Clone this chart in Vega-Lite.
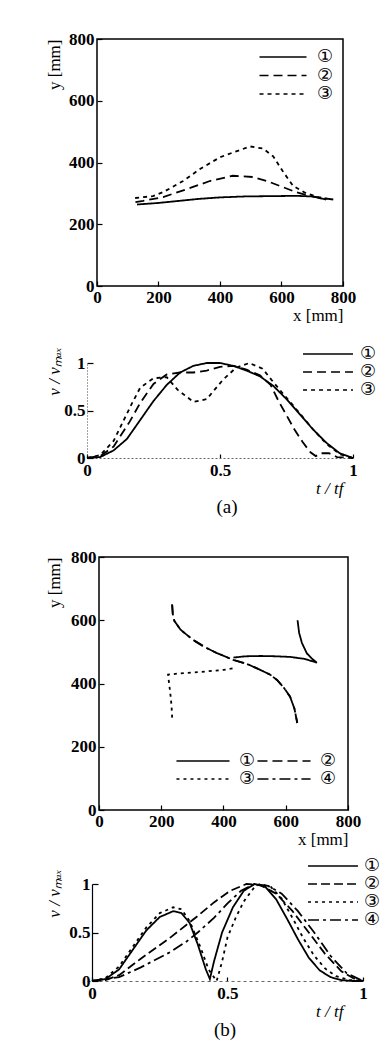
{
  "$schema": "https://vega.github.io/schema/vega-lite/v6.json",
  "padding": {"left": 44, "top": 30, "right": 0, "bottom": 0},
  "background": "white",
  "config": {
    "font": "Liberation Serif",
    "view": {"stroke": null},
    "axis": {
      "labelFont": "Liberation Serif", "labelFontSize": 17, "labelFontWeight": "bold", "labelColor": "black",
      "titleFont": "Liberation Serif", "titleFontSize": 17, "titleFontWeight": "normal", "titleColor": "black",
      "grid": false, "tickColor": "black", "domainColor": "black", "domainWidth": 1.5, "tickSize": -5, "tickWidth": 1.2
    },
    "legend": {
      "orient": "none", "direction": "vertical", "title": null, "symbolType": "M-4,0H4", "symbolStrokeColor": "black", "symbolStrokeWidth": 1.6,
      "labelFont": "DejaVu Sans", "labelFontSize": 18, "labelColor": "black", "padding": 0, "rowPadding": 0
    },
    "title": {"font": "Liberation Serif", "fontSize": 19, "fontWeight": "normal", "color": "black"}
  },
  "datasets": {
    "frame": [{"x0": 0, "x1": 800, "y0": 0, "y1": 800}],
    "xya": [
      {"c": "①", "i": 1, "x": 130, "y": 264}, {"c": "①", "i": 2, "x": 200, "y": 269}, {"c": "①", "i": 3, "x": 260, "y": 275},
      {"c": "①", "i": 4, "x": 330, "y": 282}, {"c": "①", "i": 5, "x": 400, "y": 287}, {"c": "①", "i": 6, "x": 480, "y": 290},
      {"c": "①", "i": 7, "x": 560, "y": 291}, {"c": "①", "i": 8, "x": 650, "y": 292}, {"c": "①", "i": 9, "x": 700, "y": 290},
      {"c": "①", "i": 10, "x": 745, "y": 280},
      {"c": "②", "i": 1, "x": 125, "y": 272}, {"c": "②", "i": 2, "x": 150, "y": 276}, {"c": "②", "i": 3, "x": 215, "y": 288},
      {"c": "②", "i": 4, "x": 293, "y": 314}, {"c": "②", "i": 5, "x": 367, "y": 340}, {"c": "②", "i": 6, "x": 442, "y": 357},
      {"c": "②", "i": 7, "x": 507, "y": 353}, {"c": "②", "i": 8, "x": 553, "y": 340}, {"c": "②", "i": 9, "x": 600, "y": 322},
      {"c": "②", "i": 10, "x": 650, "y": 303}, {"c": "②", "i": 11, "x": 700, "y": 290}, {"c": "②", "i": 12, "x": 740, "y": 284},
      {"c": "②", "i": 13, "x": 770, "y": 280},
      {"c": "③", "i": 1, "x": 124, "y": 285}, {"c": "③", "i": 2, "x": 182, "y": 291}, {"c": "③", "i": 3, "x": 215, "y": 304},
      {"c": "③", "i": 4, "x": 280, "y": 340}, {"c": "③", "i": 5, "x": 335, "y": 379}, {"c": "③", "i": 6, "x": 400, "y": 417},
      {"c": "③", "i": 7, "x": 455, "y": 437}, {"c": "③", "i": 8, "x": 498, "y": 452}, {"c": "③", "i": 9, "x": 540, "y": 445},
      {"c": "③", "i": 10, "x": 573, "y": 420}, {"c": "③", "i": 11, "x": 606, "y": 369}, {"c": "③", "i": 12, "x": 638, "y": 324},
      {"c": "③", "i": 13, "x": 680, "y": 300}, {"c": "③", "i": 14, "x": 720, "y": 288}, {"c": "③", "i": 15, "x": 750, "y": 282}
    ],
    "va": [
      {"c": "①", "t": 0, "v": 0}, {"c": "①", "t": 0.05, "v": 0.01}, {"c": "①", "t": 0.1, "v": 0.08}, {"c": "①", "t": 0.15, "v": 0.2},
      {"c": "①", "t": 0.2, "v": 0.4}, {"c": "①", "t": 0.25, "v": 0.6}, {"c": "①", "t": 0.3, "v": 0.77}, {"c": "①", "t": 0.35, "v": 0.9},
      {"c": "①", "t": 0.4, "v": 0.97}, {"c": "①", "t": 0.45, "v": 1.0}, {"c": "①", "t": 0.5, "v": 1.0}, {"c": "①", "t": 0.55, "v": 0.97},
      {"c": "①", "t": 0.6, "v": 0.92}, {"c": "①", "t": 0.65, "v": 0.86}, {"c": "①", "t": 0.7, "v": 0.76}, {"c": "①", "t": 0.75, "v": 0.62},
      {"c": "①", "t": 0.8, "v": 0.46}, {"c": "①", "t": 0.85, "v": 0.3}, {"c": "①", "t": 0.9, "v": 0.16}, {"c": "①", "t": 0.95, "v": 0.05},
      {"c": "①", "t": 1.0, "v": 0.0},
      {"c": "②", "t": 0, "v": 0}, {"c": "②", "t": 0.05, "v": 0.02}, {"c": "②", "t": 0.1, "v": 0.12}, {"c": "②", "t": 0.16, "v": 0.38},
      {"c": "②", "t": 0.2, "v": 0.58}, {"c": "②", "t": 0.25, "v": 0.78}, {"c": "②", "t": 0.3, "v": 0.88}, {"c": "②", "t": 0.35, "v": 0.9},
      {"c": "②", "t": 0.4, "v": 0.9}, {"c": "②", "t": 0.45, "v": 0.92}, {"c": "②", "t": 0.5, "v": 0.96}, {"c": "②", "t": 0.55, "v": 0.97},
      {"c": "②", "t": 0.6, "v": 0.93}, {"c": "②", "t": 0.65, "v": 0.87}, {"c": "②", "t": 0.69, "v": 0.77}, {"c": "②", "t": 0.72, "v": 0.6},
      {"c": "②", "t": 0.75, "v": 0.45}, {"c": "②", "t": 0.78, "v": 0.3}, {"c": "②", "t": 0.81, "v": 0.17}, {"c": "②", "t": 0.84, "v": 0.06},
      {"c": "②", "t": 0.86, "v": 0.02}, {"c": "②", "t": 0.88, "v": 0.05}, {"c": "②", "t": 0.91, "v": 0.05}, {"c": "②", "t": 0.94, "v": 0.01},
      {"c": "②", "t": 1.0, "v": 0},
      {"c": "③", "t": 0, "v": 0}, {"c": "③", "t": 0.05, "v": 0.03}, {"c": "③", "t": 0.1, "v": 0.18}, {"c": "③", "t": 0.135, "v": 0.38},
      {"c": "③", "t": 0.17, "v": 0.58}, {"c": "③", "t": 0.2, "v": 0.74}, {"c": "③", "t": 0.25, "v": 0.84}, {"c": "③", "t": 0.3, "v": 0.85},
      {"c": "③", "t": 0.34, "v": 0.72}, {"c": "③", "t": 0.4, "v": 0.59}, {"c": "③", "t": 0.45, "v": 0.62}, {"c": "③", "t": 0.51, "v": 0.82},
      {"c": "③", "t": 0.56, "v": 0.95}, {"c": "③", "t": 0.61, "v": 1.0}, {"c": "③", "t": 0.66, "v": 0.94}, {"c": "③", "t": 0.7, "v": 0.8},
      {"c": "③", "t": 0.73, "v": 0.7}, {"c": "③", "t": 0.8, "v": 0.47}, {"c": "③", "t": 0.85, "v": 0.3}, {"c": "③", "t": 0.9, "v": 0.15},
      {"c": "③", "t": 0.95, "v": 0.04}, {"c": "③", "t": 1.0, "v": 0}
    ],
    "xyb": [
      {"c": "①", "i": 1, "x": 432, "y": 482}, {"c": "①", "i": 2, "x": 470, "y": 486}, {"c": "①", "i": 3, "x": 520, "y": 487},
      {"c": "①", "i": 4, "x": 570, "y": 486}, {"c": "①", "i": 5, "x": 614, "y": 484}, {"c": "①", "i": 6, "x": 660, "y": 478},
      {"c": "①", "i": 7, "x": 700, "y": 466}, {"c": "①", "i": 8, "x": 685, "y": 478}, {"c": "①", "i": 9, "x": 668, "y": 495},
      {"c": "①", "i": 10, "x": 652, "y": 528}, {"c": "①", "i": 11, "x": 643, "y": 560}, {"c": "①", "i": 12, "x": 638, "y": 600},
      {"c": "②", "i": 1, "x": 235, "y": 650}, {"c": "②", "i": 2, "x": 237, "y": 620}, {"c": "②", "i": 3, "x": 242, "y": 598},
      {"c": "②", "i": 4, "x": 262, "y": 570}, {"c": "②", "i": 5, "x": 302, "y": 538}, {"c": "②", "i": 6, "x": 340, "y": 515},
      {"c": "②", "i": 7, "x": 379, "y": 496}, {"c": "②", "i": 8, "x": 431, "y": 475}, {"c": "②", "i": 9, "x": 480, "y": 460},
      {"c": "②", "i": 10, "x": 518, "y": 443}, {"c": "②", "i": 11, "x": 550, "y": 428}, {"c": "②", "i": 12, "x": 572, "y": 411},
      {"c": "②", "i": 13, "x": 595, "y": 385}, {"c": "②", "i": 14, "x": 614, "y": 358}, {"c": "②", "i": 15, "x": 628, "y": 320},
      {"c": "②", "i": 16, "x": 637, "y": 275},
      {"c": "④", "i": 1, "x": 235, "y": 650}, {"c": "④", "i": 2, "x": 237, "y": 620}, {"c": "④", "i": 3, "x": 242, "y": 598},
      {"c": "④", "i": 4, "x": 262, "y": 570}, {"c": "④", "i": 5, "x": 302, "y": 538}, {"c": "④", "i": 6, "x": 340, "y": 515},
      {"c": "④", "i": 7, "x": 379, "y": 496}, {"c": "④", "i": 8, "x": 431, "y": 475}, {"c": "④", "i": 9, "x": 480, "y": 460},
      {"c": "④", "i": 10, "x": 518, "y": 443}, {"c": "④", "i": 11, "x": 550, "y": 428}, {"c": "④", "i": 12, "x": 572, "y": 411},
      {"c": "④", "i": 13, "x": 595, "y": 385}, {"c": "④", "i": 14, "x": 614, "y": 358}, {"c": "④", "i": 15, "x": 628, "y": 320},
      {"c": "④", "i": 16, "x": 637, "y": 275},
      {"c": "③", "i": 1, "x": 235, "y": 292}, {"c": "③", "i": 2, "x": 233, "y": 330}, {"c": "③", "i": 3, "x": 229, "y": 370},
      {"c": "③", "i": 4, "x": 224, "y": 410}, {"c": "③", "i": 5, "x": 222, "y": 428}, {"c": "③", "i": 6, "x": 260, "y": 432},
      {"c": "③", "i": 7, "x": 330, "y": 437}, {"c": "③", "i": 8, "x": 400, "y": 443}, {"c": "③", "i": 9, "x": 440, "y": 450}
    ],
    "vb": [
      {"c": "①", "t": 0, "v": 0}, {"c": "①", "t": 0.05, "v": 0.02}, {"c": "①", "t": 0.1, "v": 0.12}, {"c": "①", "t": 0.15, "v": 0.32},
      {"c": "①", "t": 0.2, "v": 0.52}, {"c": "①", "t": 0.25, "v": 0.66}, {"c": "①", "t": 0.3, "v": 0.72}, {"c": "①", "t": 0.33, "v": 0.7},
      {"c": "①", "t": 0.36, "v": 0.6}, {"c": "①", "t": 0.39, "v": 0.38}, {"c": "①", "t": 0.42, "v": 0.12}, {"c": "①", "t": 0.435, "v": 0.02},
      {"c": "①", "t": 0.45, "v": 0.2}, {"c": "①", "t": 0.48, "v": 0.5}, {"c": "①", "t": 0.52, "v": 0.76}, {"c": "①", "t": 0.56, "v": 0.93},
      {"c": "①", "t": 0.6, "v": 1.0}, {"c": "①", "t": 0.64, "v": 0.97}, {"c": "①", "t": 0.68, "v": 0.84}, {"c": "①", "t": 0.72, "v": 0.64},
      {"c": "①", "t": 0.76, "v": 0.43}, {"c": "①", "t": 0.8, "v": 0.24}, {"c": "①", "t": 0.84, "v": 0.11}, {"c": "①", "t": 0.88, "v": 0.04},
      {"c": "①", "t": 0.92, "v": 0.01}, {"c": "①", "t": 0.96, "v": 0.0}, {"c": "①", "t": 1.0, "v": 0.0},
      {"c": "②", "t": 0, "v": 0}, {"c": "②", "t": 0.05, "v": 0.01}, {"c": "②", "t": 0.1, "v": 0.06}, {"c": "②", "t": 0.18, "v": 0.23},
      {"c": "②", "t": 0.29, "v": 0.45}, {"c": "②", "t": 0.39, "v": 0.67}, {"c": "②", "t": 0.45, "v": 0.81}, {"c": "②", "t": 0.51, "v": 0.93},
      {"c": "②", "t": 0.57, "v": 1.0}, {"c": "②", "t": 0.62, "v": 0.99}, {"c": "②", "t": 0.68, "v": 0.9}, {"c": "②", "t": 0.74, "v": 0.72},
      {"c": "②", "t": 0.8, "v": 0.5}, {"c": "②", "t": 0.86, "v": 0.28}, {"c": "②", "t": 0.92, "v": 0.1}, {"c": "②", "t": 0.97, "v": 0.02},
      {"c": "②", "t": 1.0, "v": 0},
      {"c": "③", "t": 0, "v": 0}, {"c": "③", "t": 0.05, "v": 0.03}, {"c": "③", "t": 0.1, "v": 0.15}, {"c": "③", "t": 0.15, "v": 0.35},
      {"c": "③", "t": 0.2, "v": 0.55}, {"c": "③", "t": 0.25, "v": 0.7}, {"c": "③", "t": 0.3, "v": 0.76}, {"c": "③", "t": 0.33, "v": 0.74},
      {"c": "③", "t": 0.36, "v": 0.62}, {"c": "③", "t": 0.4, "v": 0.35}, {"c": "③", "t": 0.43, "v": 0.12}, {"c": "③", "t": 0.46, "v": 0.0},
      {"c": "③", "t": 0.48, "v": 0.2}, {"c": "③", "t": 0.5, "v": 0.45}, {"c": "③", "t": 0.53, "v": 0.65}, {"c": "③", "t": 0.56, "v": 0.82},
      {"c": "③", "t": 0.6, "v": 0.97}, {"c": "③", "t": 0.62, "v": 1.0}, {"c": "③", "t": 0.66, "v": 0.97}, {"c": "③", "t": 0.7, "v": 0.85},
      {"c": "③", "t": 0.74, "v": 0.65}, {"c": "③", "t": 0.78, "v": 0.44}, {"c": "③", "t": 0.82, "v": 0.26}, {"c": "③", "t": 0.86, "v": 0.13},
      {"c": "③", "t": 0.9, "v": 0.05}, {"c": "③", "t": 0.95, "v": 0.01}, {"c": "③", "t": 1.0, "v": 0},
      {"c": "④", "t": 0, "v": 0}, {"c": "④", "t": 0.1, "v": 0.04}, {"c": "④", "t": 0.18, "v": 0.14}, {"c": "④", "t": 0.29, "v": 0.3},
      {"c": "④", "t": 0.35, "v": 0.41}, {"c": "④", "t": 0.39, "v": 0.5}, {"c": "④", "t": 0.45, "v": 0.65}, {"c": "④", "t": 0.5, "v": 0.8},
      {"c": "④", "t": 0.55, "v": 0.93}, {"c": "④", "t": 0.6, "v": 1.0}, {"c": "④", "t": 0.65, "v": 0.98}, {"c": "④", "t": 0.7, "v": 0.9},
      {"c": "④", "t": 0.76, "v": 0.72}, {"c": "④", "t": 0.82, "v": 0.5}, {"c": "④", "t": 0.88, "v": 0.26}, {"c": "④", "t": 0.94, "v": 0.08},
      {"c": "④", "t": 1.0, "v": 0}
    ]
  },
  "spacing": 31,
  "resolve": {"scale": {"strokeDash": "independent", "x": "independent", "y": "independent"}, "legend": {"strokeDash": "independent"}},
  "vconcat": [
    {
      "spacing": 22,
      "resolve": {"scale": {"strokeDash": "independent", "x": "independent", "y": "independent"}, "legend": {"strokeDash": "independent"}},
      "vconcat": [
        {
          "width": 256, "height": 247,
          "encoding": {
            "x": {"type": "quantitative", "scale": {"domain": [-32.52, 800], "nice": false, "zero": false},
              "axis": {"values": [0, 200, 400, 600, 800], "title": "x [mm]", "titleAnchor": "end", "titlePadding": 2, "labelPadding": 8, "labelFlush": false, "domain": false}},
            "y": {"type": "quantitative", "scale": {"domain": [0, 800], "nice": false},
              "axis": {"values": [0, 200, 400, 600, 800], "title": "y [mm]", "titleAnchor": "end", "titleX": -34, "labelPadding": 8, "labelFlush": false, "domain": false, "offset": -10}}
          },
          "layer": [
            {
              "data": {"name": "frame"},
              "mark": {"type": "rect", "filled": false, "color": "black", "strokeWidth": 1.5},
              "encoding": {"x": {"field": "x0"}, "x2": {"field": "x1"}, "y": {"field": "y0"}, "y2": {"field": "y1"}}
            },
            {
              "data": {"name": "xya"},
              "mark": {"type": "line", "color": "black", "strokeWidth": 1.8},
              "encoding": {
                "x": {"field": "x"}, "y": {"field": "y"},
                "strokeDash": {"field": "c", "type": "nominal",
                  "scale": {"domain": ["①", "②", "③"], "range": [[1, 0], [9, 5], [4, 4]]},
                  "legend": {"legendX": 187, "legendY": 9, "symbolSize": 138, "labelOffset": 25, "rowPadding": 0.5}},
                "order": {"field": "i", "type": "quantitative"}
              }
            }
          ]
        },
        {
          "width": 266, "height": 95,
          "data": {"name": "va"},
          "title": {"text": "(a)", "orient": "bottom", "anchor": "middle", "offset": 2, "dx": 7},
          "mark": {"type": "line", "color": "black", "strokeWidth": 1.8},
          "encoding": {
            "x": {"field": "t", "type": "quantitative", "scale": {"domain": [0, 1], "nice": false},
              "axis": {"values": [0, 0.5, 1], "labelExpr": "datum.value == 0.5 ? '0.5' : format(datum.value, 'd')", "title": "t / tf", "titleFontStyle": "italic", "titleX": 256, "titleY": 22, "titleAlign": "right", "titleBaseline": "top",
                "labelPadding": 8, "labelFlush": false, "domainDash": [2, 2], "domainColor": "#666", "domainWidth": 1, "tickSize": -4}},
            "y": {"field": "v", "type": "quantitative", "scale": {"domain": [0, 1], "nice": false},
              "axis": {"values": [0, 0.5, 1], "labelExpr": "datum.value == 0.5 ? '0.5' : format(datum.value, 'd')", "title": "v / vₘₐₓ", "titleFontStyle": "italic", "titleAnchor": "end", "titleX": -24, "titleY": -16, "titleAlign": "right",
                "labelPadding": 8, "labelFlush": false, "domainDash": [1, 2], "domainColor": "#444", "domainWidth": 1, "tickSize": -6}},
            "strokeDash": {"field": "c", "type": "nominal",
              "scale": {"domain": ["①", "②", "③"], "range": [[1, 0], [9, 5], [4, 4]]},
              "legend": {"legendX": 232, "legendY": -18, "symbolSize": 156, "labelOffset": 23}}
          }
        }
      ]
    },
    {
      "spacing": 10,
      "resolve": {"scale": {"strokeDash": "independent", "x": "independent", "y": "independent"}, "legend": {"strokeDash": "independent"}},
      "vconcat": [
        {
          "width": 261, "height": 253,
          "encoding": {
            "x": {"type": "quantitative", "scale": {"domain": [-38.55, 800], "nice": false, "zero": false},
              "axis": {"values": [0, 200, 400, 600, 800], "title": "x [mm]", "titleAnchor": "end", "titlePadding": 2, "labelPadding": 8, "labelFlush": false, "domain": false}},
            "y": {"type": "quantitative", "scale": {"domain": [0, 800], "nice": false},
              "axis": {"values": [0, 200, 400, 600, 800], "title": "y [mm]", "titleAnchor": "end", "titleX": -36, "labelPadding": 8, "labelFlush": false, "domain": false, "offset": -12}}
          },
          "layer": [
            {
              "data": {"name": "frame"},
              "mark": {"type": "rect", "filled": false, "color": "black", "strokeWidth": 1.5},
              "encoding": {"x": {"field": "x0"}, "x2": {"field": "x1"}, "y": {"field": "y0"}, "y2": {"field": "y1"}}
            },
            {
              "data": {"name": "xyb"},
              "mark": {"type": "line", "color": "black", "strokeWidth": 1.8},
              "encoding": {
                "x": {"field": "x"}, "y": {"field": "y"},
                "strokeDash": {"field": "c", "type": "nominal",
                  "scale": {"domain": ["①", "③", "②", "④"], "range": [[1, 0], [3, 4], [10, 5], [11, 4, 3, 4]]},
                  "legend": {"legendX": 107, "legendY": 195, "symbolSize": 176, "labelOffset": 27, "columns": 2, "columnPadding": -2}},
                "order": {"field": "i", "type": "quantitative"}
              }
            }
          ]
        },
        {
          "width": 276, "height": 97,
          "data": {"name": "vb"},
          "title": {"text": "(b)", "orient": "bottom", "anchor": "middle", "offset": 2},
          "mark": {"type": "line", "color": "black", "strokeWidth": 1.8},
          "encoding": {
            "x": {"field": "t", "type": "quantitative", "scale": {"domain": [-0.01845, 1], "nice": false, "zero": false},
              "axis": {"values": [0, 0.5, 1], "labelExpr": "datum.value == 0.5 ? '0.5' : format(datum.value, 'd')", "title": "t / tf", "titleFontStyle": "italic", "titleX": 256, "titleY": 22, "titleAlign": "right", "titleBaseline": "top",
                "labelPadding": 8, "labelFlush": false, "domainDash": [3, 3], "domainColor": "#666", "domainWidth": 1, "tickSize": -4}},
            "y": {"field": "v", "type": "quantitative", "scale": {"domain": [0, 1], "nice": false},
              "axis": {"values": [0, 0.5, 1], "labelExpr": "datum.value == 0.5 ? '0.5' : format(datum.value, 'd')", "title": "v / vₘₐₓ", "titleFontStyle": "italic", "titleAnchor": "end", "titleX": -29, "titleY": -15, "titleAlign": "right",
                "labelPadding": 8, "labelFlush": false, "domainWidth": 1.2, "tickSize": -6, "offset": -5}},
            "strokeDash": {"field": "c", "type": "nominal",
              "scale": {"domain": ["①", "②", "③", "④"], "range": [[1, 0], [9, 4], [3, 4], [11, 4, 3, 4]]},
              "legend": {"legendX": 237, "legendY": -27, "symbolSize": 156, "labelOffset": 22}}
          }
        }
      ]
    }
  ]
}
